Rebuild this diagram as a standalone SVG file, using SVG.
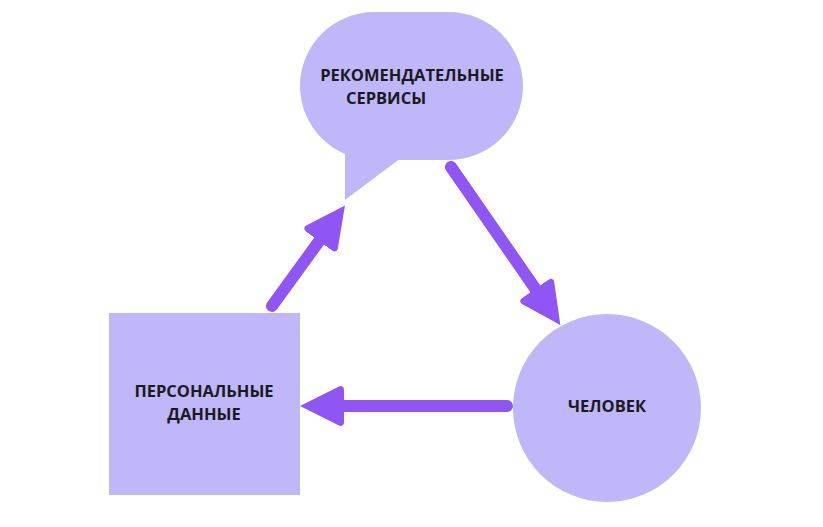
<svg xmlns="http://www.w3.org/2000/svg" width="823" height="527" viewBox="0 0 823 527">
<style>
.n{fill:#c0b6fa}
.t{font-family:"Open Sans",sans-serif;font-weight:bold;font-size:16.5px;fill:#1b1b1b;text-anchor:middle}
.c{stroke:#8f55f5;stroke-width:12;stroke-linecap:round;fill:none}
</style>
<defs>
<marker id="a" markerUnits="userSpaceOnUse" markerWidth="50" markerHeight="50" refX="10" refY="25" orient="auto" viewBox="0 0 50 50">
<path d="M4,5 L44,25 L4,45 Q0,45 0,41 L0,9 Q0,5 4,5Z" fill="#8f55f5"/>
</marker>
</defs>
<rect width="823" height="527" fill="#fff"/>
<g id="services">
<rect class="n" x="300" y="12" width="223" height="148" rx="74"/>
<path class="n" d="M345,150 L345,200 L405,155 Z"/>
<text class="t" x="412" y="81">РЕКОМЕНДАТЕЛЬНЫЕ</text>
<text class="t" x="386" y="104">СЕРВИСЫ</text>
</g>
<g id="personal">
<rect class="n" x="109" y="313" width="191" height="182"/>
<text class="t" x="204" y="397">ПЕРСОНАЛЬНЫЕ</text>
<text class="t" x="204" y="420">ДАННЫЕ</text>
</g>
<g id="person">
<circle class="n" cx="607" cy="408" r="94"/>
<text class="t" x="607" y="412">ЧЕЛОВЕК</text>
</g>
<g id="connectors">
<path class="c" d="M272,306 L325,233" marker-end="url(#a)"/>
<path class="c" d="M451,167 L541,297" marker-end="url(#a)"/>
<path class="c" d="M507,406 L334,406" marker-end="url(#a)"/>
</g>
</svg>
